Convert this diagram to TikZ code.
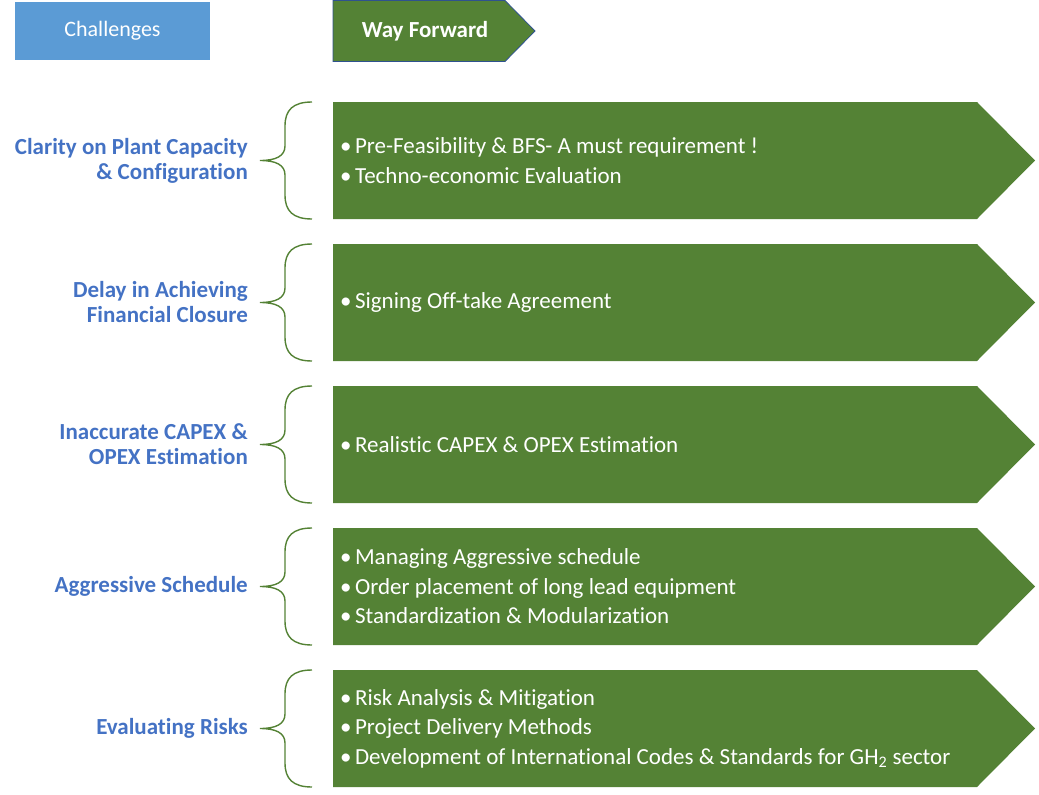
\documentclass[tikz,border=0pt]{standalone}
\usepackage{fontspec}
\setmainfont[Ligatures=NoCommon]{Carlito}
\usepackage{xcolor}
\definecolor{wfgreen}{HTML}{548235}
\definecolor{wfborder}{HTML}{2F528F}
\definecolor{chblue}{HTML}{5B9BD5}
\definecolor{chtext}{HTML}{4472C4}
\usepackage{tikz}
\usetikzlibrary{positioning, calc}
\newcommand{\wfArrow}[1]{% y-top of the green arrow
  \fill[wfgreen] (333,#1) -- (977,#1) -- (1035,#1+58.5) -- (977,#1+117)
    -- (333,#1+117) -- cycle;
}
\newcommand{\chBrace}[1]{% y-top of the brace
  \draw[wfgreen, line width=1.4pt]
    (312,#1) .. controls (293,#1) and (285,#1+8) .. (285,#1+24)
    -- (285,#1+44) .. controls (285,#1+54) and (276,#1+58.5) .. (260,#1+58.5)
    .. controls (276,#1+58.5) and (285,#1+63) .. (285,#1+73)
    -- (285,#1+93) .. controls (285,#1+109) and (293,#1+117) .. (312,#1+117);
}
\newcommand{\bul}{•\hspace{0.15em}}
\tikzset{
  challenge/.style={anchor=east, align=right, inner sep=0pt, text=chtext,
    font=\fontsize{23}{25}\selectfont\bfseries},
  bullets/.style={anchor=west, align=left, inner sep=0pt, text=white,
    font=\fontsize{23}{29.5}\selectfont},
}

\begin{document}
\begin{tikzpicture}[x=1pt, y=-1pt]
  \useasboundingbox (0,0) rectangle (1039,795);

  % Headings
  \node[fill=chblue, minimum width=195pt, minimum height=58pt, inner sep=0pt,
    text=white, font=\fontsize{22}{24}\selectfont] (chhead) at (112.5,31) {Challenges};
  \filldraw[fill=wfgreen, draw=wfborder, line width=0.8pt]
    (333,0.5) -- (505,0.5) -- (535,31) -- (505,61.5) -- (333,61.5) -- cycle;
  \node[text=white, font=\fontsize{23}{24}\selectfont\bfseries] (wfhead) at (425,31) {Way Forward};

  % Row 1: plant capacity
  \wfArrow{102}  \chBrace{102}
  \node[challenge] (ch1) at (248,160.5) {Clarity on Plant Capacity\\\& Configuration};
  \node[bullets] (wf1) at (340,160.5) {\bul Pre-Feasibility \& BFS- A must requirement !\\\bul Techno-economic Evaluation};

  % Row 2: financial closure
  \wfArrow{244}  \chBrace{244}
  \node[challenge] (ch2) at (248,302.5) {Delay in Achieving\\Financial Closure};
  \node[bullets] (wf2) at (340,302.5) {\bul Signing Off-take Agreement};

  % Row 3: CAPEX / OPEX
  \wfArrow{386}  \chBrace{386}
  \node[challenge] (ch3) at (248,444.5) {Inaccurate CAPEX \&\\OPEX Estimation};
  \node[bullets] (wf3) at (340,444.5) {\bul Realistic CAPEX \& OPEX Estimation};

  % Row 4: schedule
  \wfArrow{528}  \chBrace{528}
  \node[challenge] (ch4) at (248,586.5) {Aggressive Schedule};
  \node[bullets] (wf4) at (340,586.5) {\bul Managing Aggressive schedule\\\bul Order placement of long lead equipment\\\bul Standardization \& Modularization};

  % Row 5: risks
  \wfArrow{670}  \chBrace{670}
  \node[challenge] (ch5) at (248,728.5) {Evaluating Risks};
  \node[bullets] (wf5) at (340,728.5) {\bul Risk Analysis \& Mitigation\\\bul Project Delivery Methods\\\bul Development of International Codes \& Standards for GH\textsubscript{2} sector};
\end{tikzpicture}
\end{document}
